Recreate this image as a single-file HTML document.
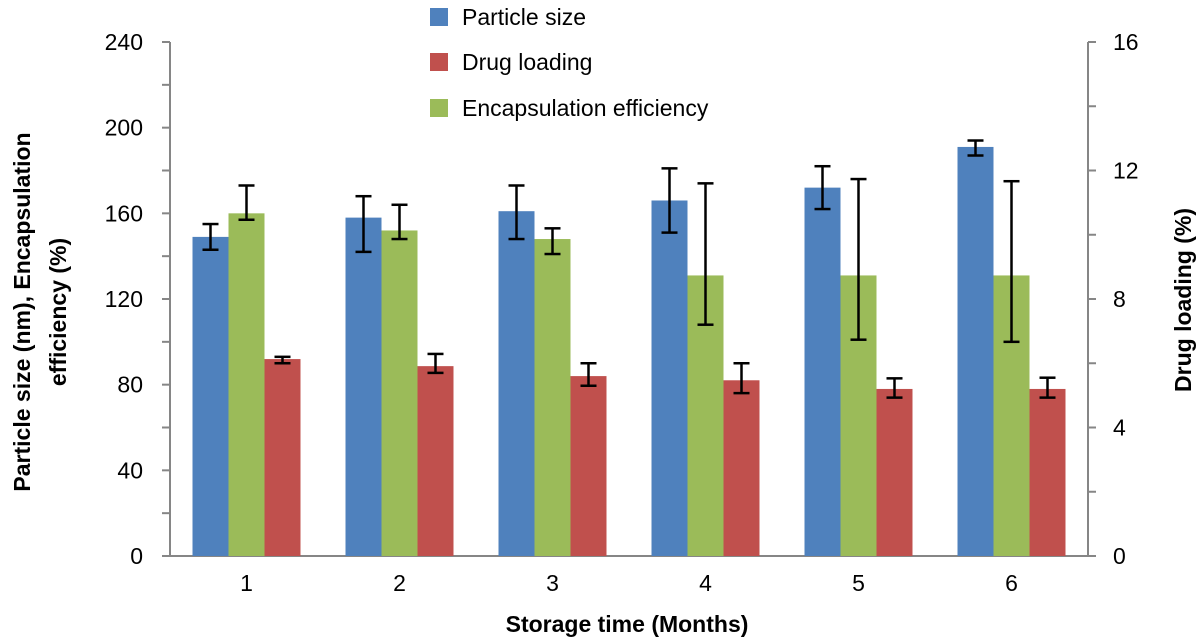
<!DOCTYPE html>
<html><head><meta charset="utf-8"><style>
body{margin:0;background:#fff}
svg{display:block;font-family:"Liberation Sans",sans-serif}
</style></head><body>
<svg id="chart" width="1200" height="641" viewBox="0 0 1200 641">
<g id="plot"></g>
</svg>
<script>
const categories=["1","2","3","4","5","6"];
const particleSize=[149,158,161,166,172,191];
const particleErrHi=[155,168,173,181,182,194];
const particleErrLo=[143,142,148,151,162,187];
const encEff=[160,152,148,131,131,131];
const encErrHi=[173,164,153,174,176,175];
const encErrLo=[157,148,141,108,101,100];
const drugLoading=[6.13,5.91,5.6,5.47,5.2,5.2];
const drugErrHi=[6.2,6.29,6.0,6.0,5.53,5.55];
const drugErrLo=[6.0,5.7,5.3,5.07,4.93,4.93];
const leftTicks=[0,40,80,120,160,200,240];
const rightTicks=[0,4,8,12,16];

const NS="http://www.w3.org/2000/svg";
const g=document.getElementById('plot');
const X0=170,X1=1088,Y0=556,Y1=42;
const yL=v=>Y0-(v/240)*(Y0-Y1);
const yR=v=>Y0-(v/16)*(Y0-Y1);
const band=(X1-X0)/categories.length;
const xc=i=>X0+band*(i+0.5);
function el(t,a,txt){const e=document.createElementNS(NS,t);for(const k in a)e.setAttribute(k,a[k]);if(txt!==undefined)e.textContent=txt;g.appendChild(e);return e;}
const axisC="#868686";
let e=el('line',{x1:X0,y1:Y0,x2:X1,y2:Y0,stroke:axisC,'stroke-width':2});

e=el('line',{x1:X0,y1:Y1,x2:X0,y2:Y0,stroke:axisC,'stroke-width':2});

e=el('line',{x1:X1,y1:Y1,x2:X1,y2:Y0,stroke:axisC,'stroke-width':2});

for(let v=0;v<=240;v+=20){el('line',{x1:X0-8,y1:yL(v),x2:X0,y2:yL(v),stroke:axisC,'stroke-width':2});}
leftTicks.forEach(v=>{
  const t=el('text',{x:X0-27,y:yL(v)+8,'text-anchor':'end','font-size':23,fill:'#000'},v);
  
  
});
for(let v=0;v<=16;v+=2){el('line',{x1:X1,y1:yR(v),x2:X1+8,y2:yR(v),stroke:axisC,'stroke-width':2});}
rightTicks.forEach(v=>{
  const t=el('text',{x:X1+25,y:yR(v)+8,'font-size':23,fill:'#000'},v);
  
  
});
const bw=36;
function errbar(x,yh,yl){
  el('line',{x1:x,y1:yh,x2:x,y2:yl,stroke:'#000','stroke-width':2.5});
  el('line',{x1:x-8,y1:yh,x2:x+8,y2:yh,stroke:'#000','stroke-width':2.5});
  el('line',{x1:x-8,y1:yl,x2:x+8,y2:yl,stroke:'#000','stroke-width':2.5});
}
categories.forEach((c,i)=>{
  const cx=xc(i);
  let b=el('rect',{x:cx-bw*1.5,y:yL(particleSize[i]),width:bw,height:Y0-yL(particleSize[i]),fill:'#4f81bd'});
  
  b=el('rect',{x:cx-bw*0.5,y:yL(encEff[i]),width:bw,height:Y0-yL(encEff[i]),fill:'#9bbb59'});
  
  b=el('rect',{x:cx+bw*0.5,y:yR(drugLoading[i]),width:bw,height:Y0-yR(drugLoading[i]),fill:'#c0504d'});
  
  errbar(cx-bw,yL(particleErrHi[i]),yL(particleErrLo[i]));
  errbar(cx,yL(encErrHi[i]),yL(encErrLo[i]));
  errbar(cx+bw,yR(drugErrHi[i]),yR(drugErrLo[i]));
  const t=el('text',{x:cx,y:591,'text-anchor':'middle','font-size':23,fill:'#000'},c);
  
});
let t=el('text',{x:627,y:632,'text-anchor':'middle','font-size':23,'font-weight':'bold'},'Storage time (Months)');

t=el('text',{x:0,y:0,'text-anchor':'middle','font-size':23,'font-weight':'bold',transform:'translate(30,312) rotate(-90)'},'Particle size (nm), Encapsulation');

t=el('text',{x:0,y:0,'text-anchor':'middle','font-size':23,'font-weight':'bold',transform:'translate(66,312) rotate(-90)'},'efficiency (%)');

t=el('text',{x:0,y:0,'text-anchor':'middle','font-size':23,'font-weight':'bold',transform:'translate(1191,300) rotate(-90)'},'Drug loading (%)');

const leg=[['Particle size','#4f81bd',17],['Drug loading','#c0504d',62],['Encapsulation efficiency','#9bbb59',108]];
leg.forEach(l=>{
  const r=el('rect',{x:430,y:l[2]-9,width:18,height:18,fill:l[1]});
  
  const tx=el('text',{x:462,y:l[2]+8,'font-size':23},l[0]);
  
});
</script>
</body></html>
